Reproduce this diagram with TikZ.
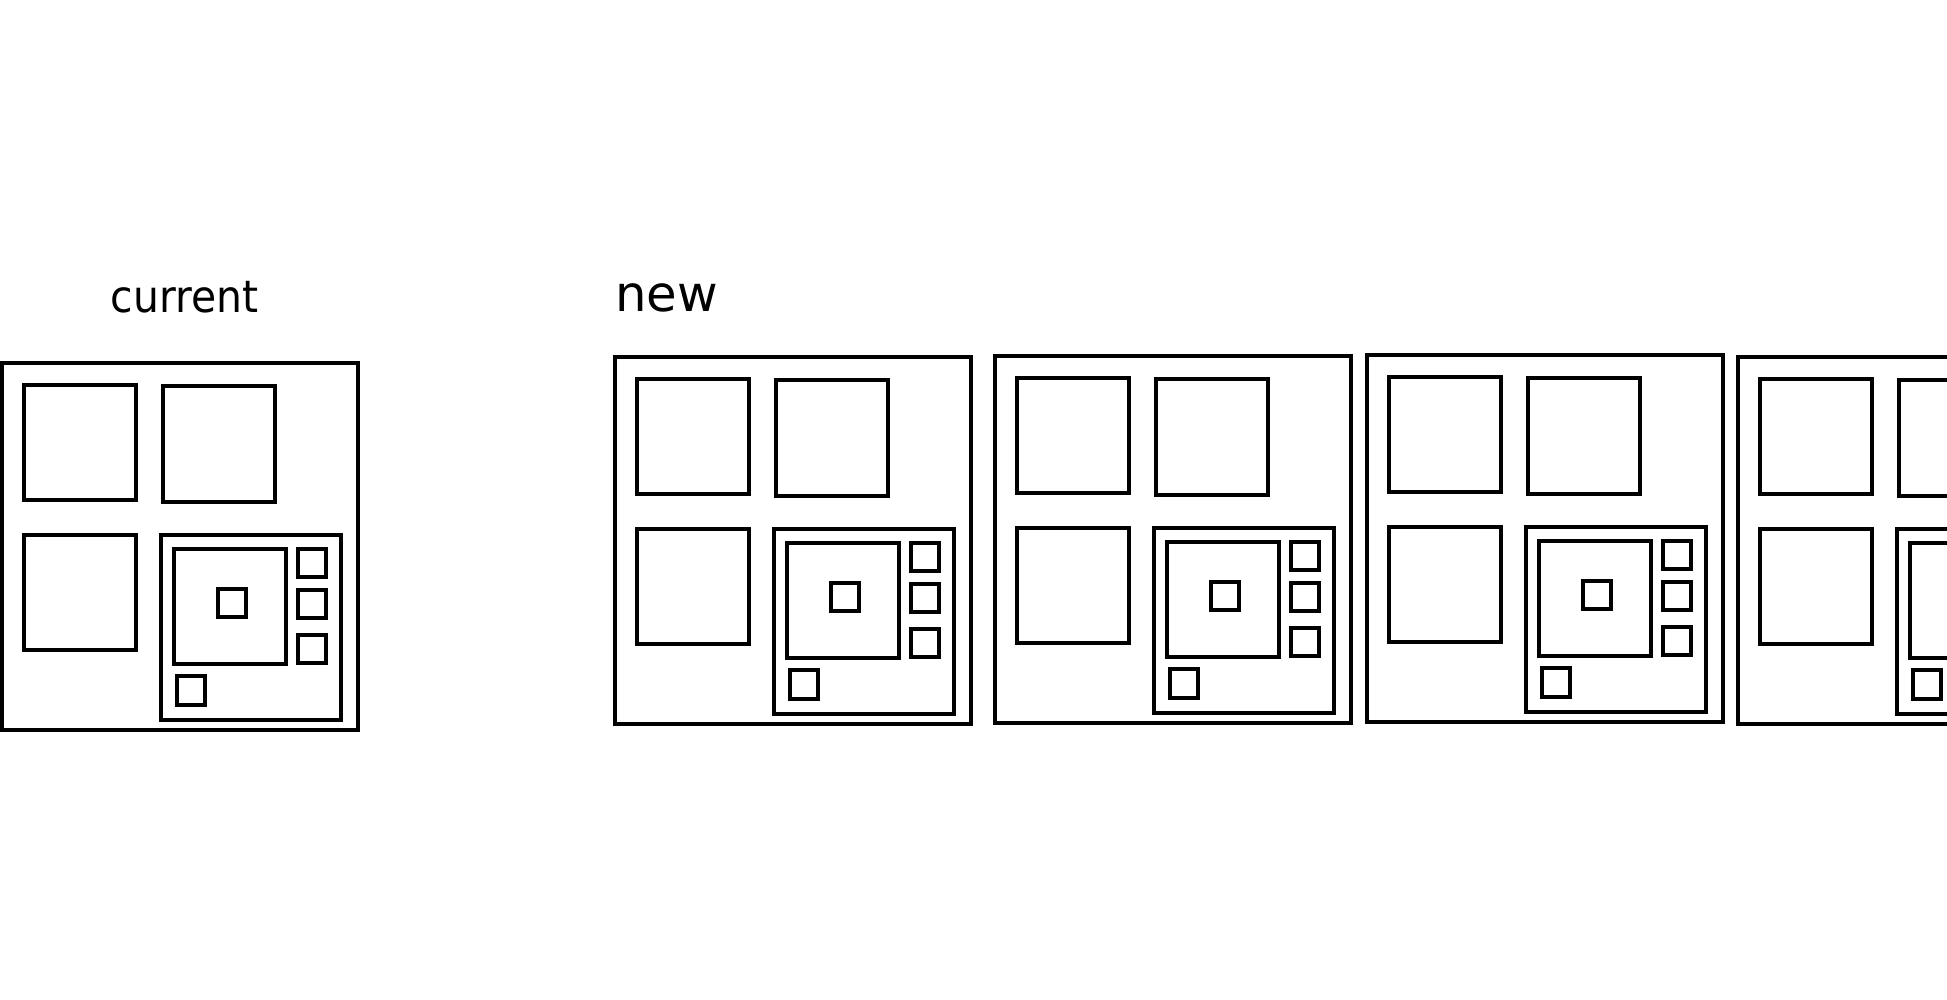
\documentclass[tikz,border=0pt]{standalone}
\usepackage{fontspec}
\setmainfont{DejaVu Sans}
\newfontfamily\narrowfont{DejaVu Sans}[FakeStretch=0.92]

\tikzset{
  chip/.style={line width=1.8pt},
  block/.style={line width=1.8pt},
  label/.style={anchor=base west, inner sep=0pt}
}

\begin{document}
\begin{tikzpicture}[x=0.02cm, y=-0.02cm, line join=miter]

% Frame
\useasboundingbox (0,0) rectangle (1947,1000);
\clip (0,0) rectangle (1947,1000);

% Labels
\node[label, font=\narrowfont\fontsize{25.3}{30}\selectfont] (current) at (110.5,312) {current};
\node[label, font=\fontsize{28.3}{34}\selectfont] (new) at (615,311) {new};

% Chips
\foreach \ox/\oy in {2/363, 615/357, 995/356, 1367/355, 1738/357} {
  \begin{scope}[shift={(\ox,\oy)}]
    % Outline
    \draw[chip] (0,0) rectangle (356,367);
    % Cores
    \draw[block] (22,22) rectangle ++(112,115);
    \draw[block] (161,23) rectangle ++(112,116);
    \draw[block] (22,172) rectangle ++(112,115);
    % Cluster
    \draw[block] (159,172) rectangle ++(180,185);
    \draw[block] (172,186) rectangle ++(112,115);
    \draw[block] (216,226) rectangle ++(28,28);
    \foreach \sy in {186,227,272}
      \draw[block] (296,\sy) rectangle ++(28,28);
    \draw[block] (175,313) rectangle ++(28,29);
  \end{scope}
}

\end{tikzpicture}
\end{document}
